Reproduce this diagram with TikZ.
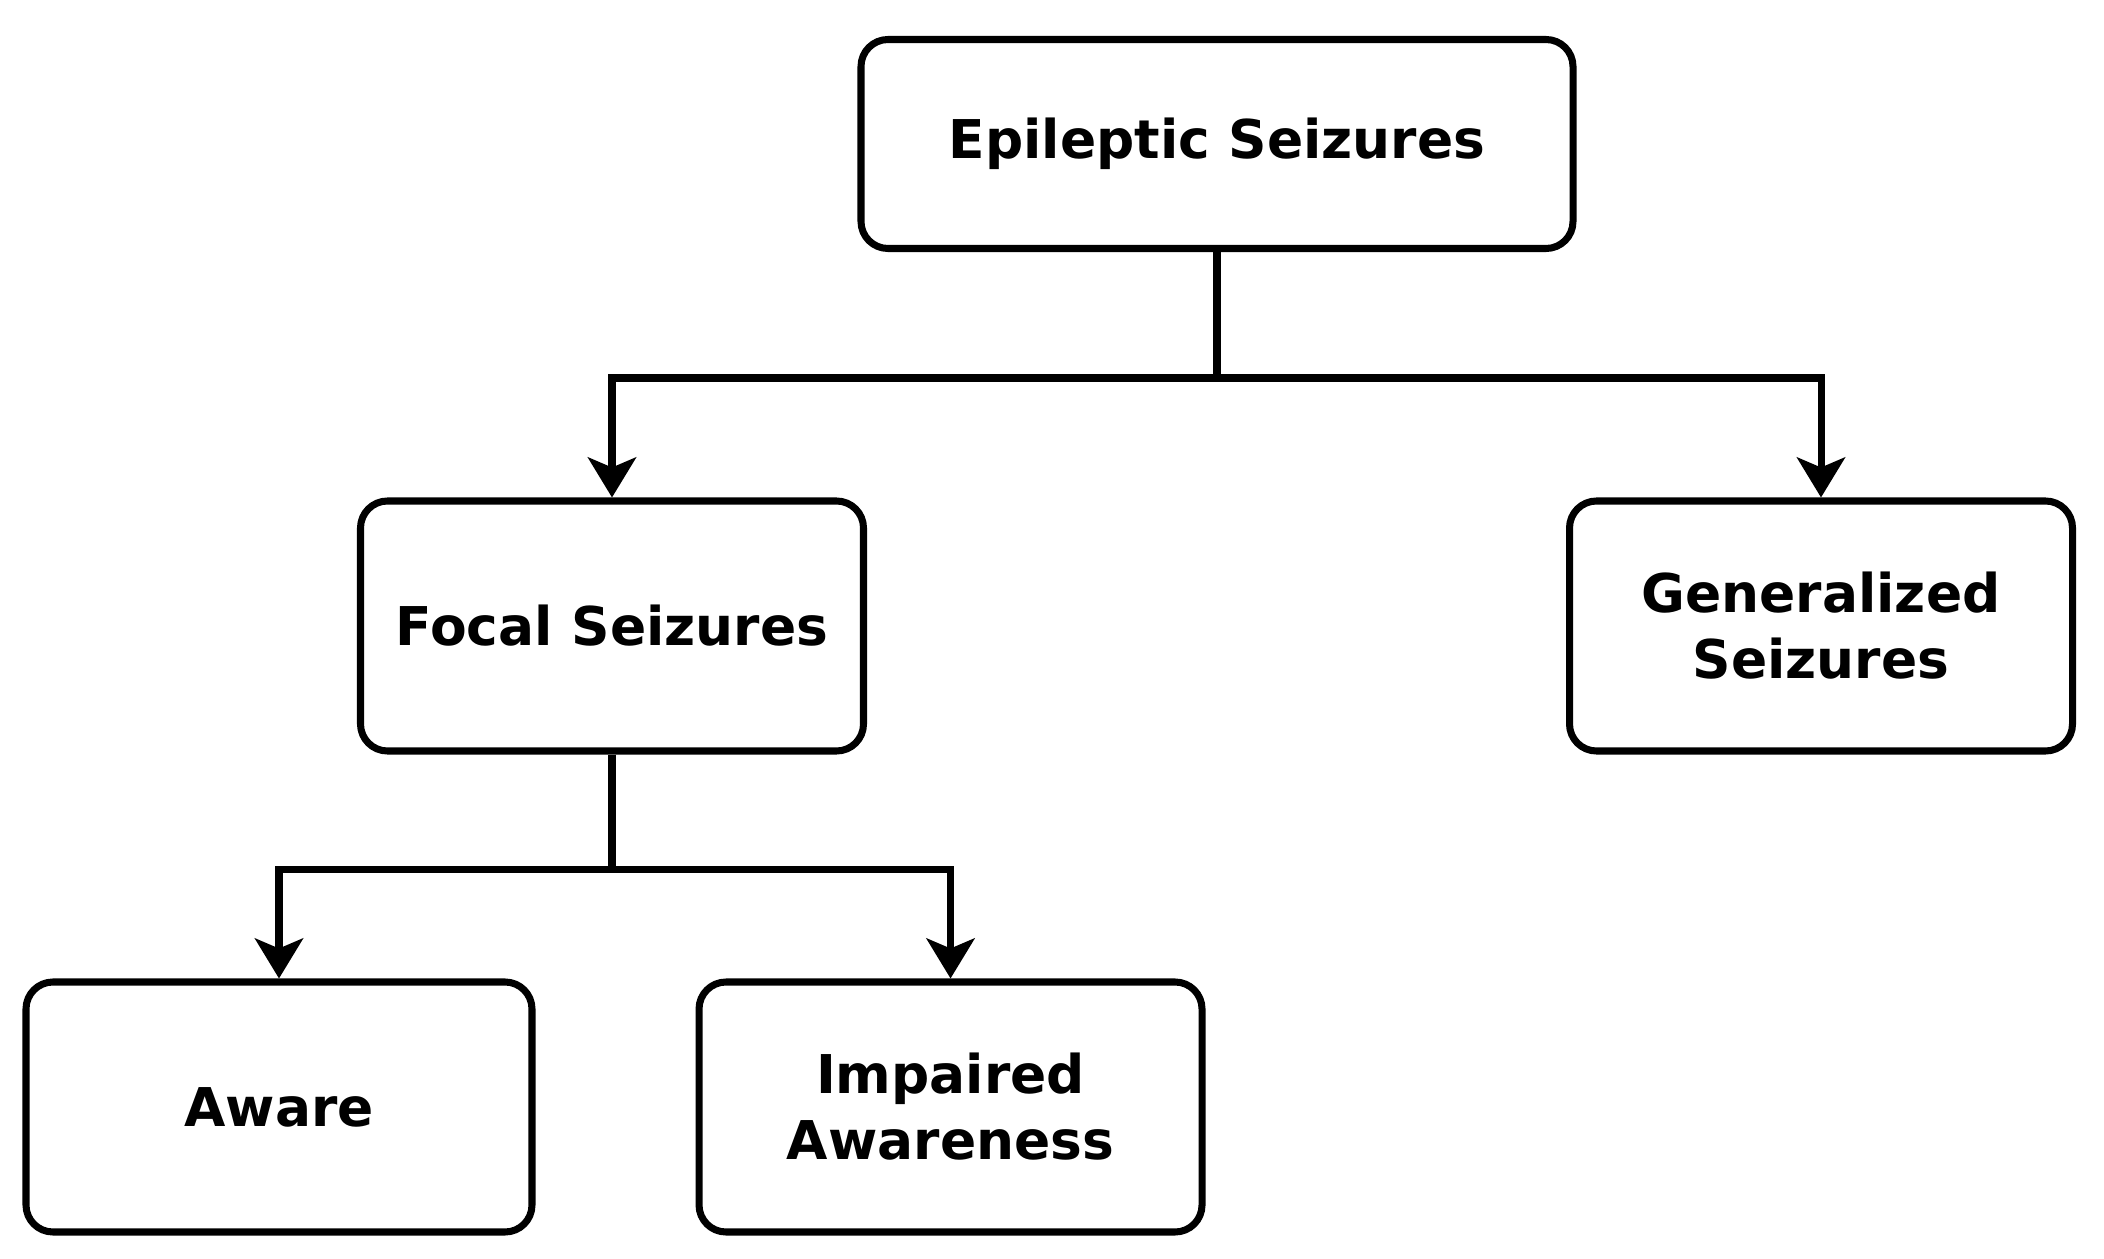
\documentclass[tikz,border=0pt]{standalone}
\usepackage{fontspec}
\setmainfont{DejaVu Sans}
\usepackage{tikz}
\usetikzlibrary{arrows.meta,positioning}
\tikzset{
  sz_node/.style = {align=center, inner sep=0pt, text centered,
    font=\bfseries\fontsize{15.2}{18.8}\selectfont},
  sz_box/.style = {sz_node, rectangle, rounded corners=0.27cm, draw=black,
    line width=2pt, fill=white, minimum height=2.5cm, minimum width=5.03cm},% case
  sz_root/.style = {sz_box, minimum height=2.09cm, minimum width=7.12cm},% racine
  sz_edge/.style = {line width=2pt, -{Stealth[length=4mm, width=4.8mm, inset=1mm]}}
}
\begin{document}
\begin{tikzpicture}
  \useasboundingbox (0,0) rectangle (21.04,-12.59);
  \node [sz_root] (E) at (12.17,-1.44) {Epileptic Seizures};
  \node [sz_box] (F) at (6.12,-6.26) {Focal Seizures};
  \node [sz_box] (G) at (18.21,-6.26) {Generalized\\Seizures};
  \node [sz_box, minimum width=5.06cm] (A) at (2.79,-11.07) {Aware};
  \node [sz_box, right=1.6cm of A] (I) {Impaired\\Awareness};
  \draw [sz_edge] (E.south) -- ++(0,-1.26) -| (F.north);
  \draw [sz_edge] (E.south) -- ++(0,-1.26) -| (G.north);
  \draw [sz_edge] (F.south) -- ++(0,-1.15) -| (A.north);
  \draw [sz_edge] (F.south) -- ++(0,-1.15) -| (I.north);
\end{tikzpicture}
\end{document}
